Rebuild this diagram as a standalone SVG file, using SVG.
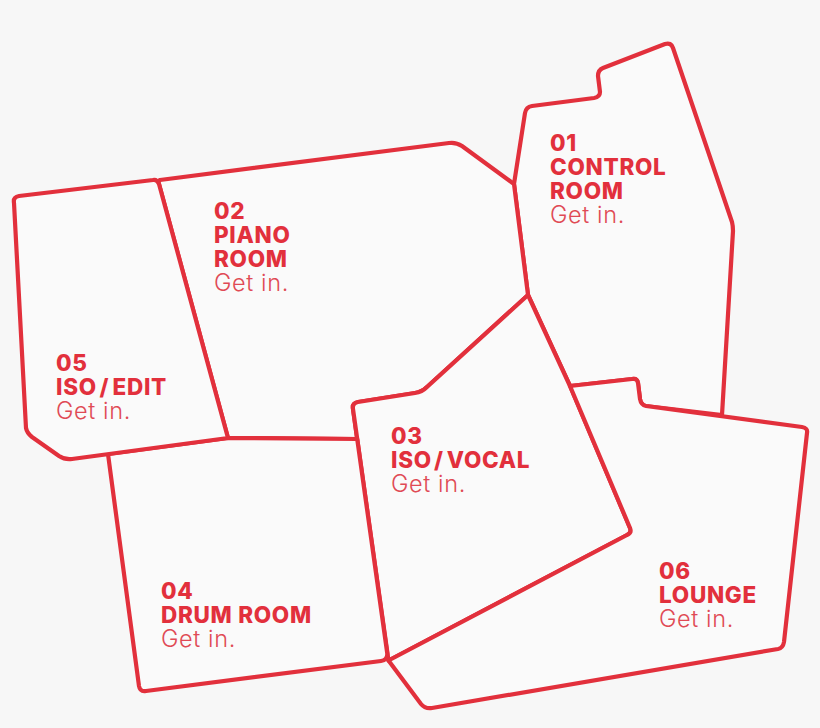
<svg xmlns="http://www.w3.org/2000/svg" width="820" height="728" viewBox="0 0 820 728">
<style>
.room{fill:#fafafa;stroke:#e2303c;stroke-width:4.2;stroke-linejoin:round;stroke-linecap:round}
text{font-family:"Inter","Liberation Sans",sans-serif;font-size:22.500px;fill:#e2303c}
.b{font-weight:800;letter-spacing:.7px}
.l{font-weight:300;font-size:23.500px;fill:#e04a55;letter-spacing:.6px}
</style>
<rect width="820" height="728" fill="#f7f7f7"/>
<g id="room-01">
<path class="room" d="M514 184L525 113Q526 107 532 106L594 98Q600 97 600 92L598 76Q598 70 603 68L665 44Q671 42 673 48L732 222Q733 226 733 231L722 415L646 406Q641 405 640 399L638 383Q637 378 632 379L570 386L528 295Z"/>
<text class="b" x="550" y="151">01</text>
<text class="b" x="550" y="175">CONTROL</text>
<text class="b" x="550" y="199">ROOM</text>
<text class="l" x="550" y="223">Get in.</text>
</g>
<g id="room-02">
<path class="room" d="M160 180L449 143Q456 142 462 146L514 184L528 295L427 387Q422 392 415 393L358 402Q352 403 353 409L357.200 439L228 438L159 184Q158 181 160 180Z"/>
<text class="b" x="214" y="219">02</text>
<text class="b" x="214" y="243">PIANO</text>
<text class="b" x="214" y="267">ROOM</text>
<text class="l" x="214" y="291">Get in.</text>
</g>
<g id="room-03">
<path class="room" d="M358 402L415 393Q422 392 427 387L528 295L570 386L630 528Q632 533 627 535L388.500 660.500L353 409Q352 403 358 402Z"/>
<text class="b" x="391" y="444">03</text>
<text class="b" x="391" y="468">ISO<tspan dx="3">/</tspan><tspan dx="3">VOCAL</tspan></text>
<text class="l" x="391" y="492">Get in.</text>
</g>
<g id="room-04">
<path class="room" d="M108 454L228 438L357.200 439L387.200 653Q388 660 381 661L146 691Q140 692 139 686Z"/>
<text class="b" x="161" y="599">04</text>
<text class="b" x="161" y="623">DRUM ROOM</text>
<text class="l" x="161" y="647">Get in.</text>
</g>
<g id="room-05">
<path class="room" d="M19 196L153 180Q157 179 159 184L228 438L72 459Q65 460 59 456L32 437Q27 433 26 428L14 203Q13 197 19 196Z"/>
<text class="b" x="56" y="371">05</text>
<text class="b" x="56" y="395">ISO<tspan dx="3.500">/</tspan><tspan dx="3.500">EDIT</tspan></text>
<text class="l" x="56" y="419">Get in.</text>
</g>
<g id="room-06">
<path class="room" d="M570 386L632 379Q637 378 638 383L640 399Q641 405 646 406L802 427Q808 428 807 433L784 642Q783 648 778 649L432 708Q425 709 421 704L388.500 660.500L627 535Q632 533 630 528Z"/>
<text class="b" x="659" y="579">06</text>
<text class="b" x="659" y="603">LOUNGE</text>
<text class="l" x="659" y="627">Get in.</text>
</g>
</svg>
